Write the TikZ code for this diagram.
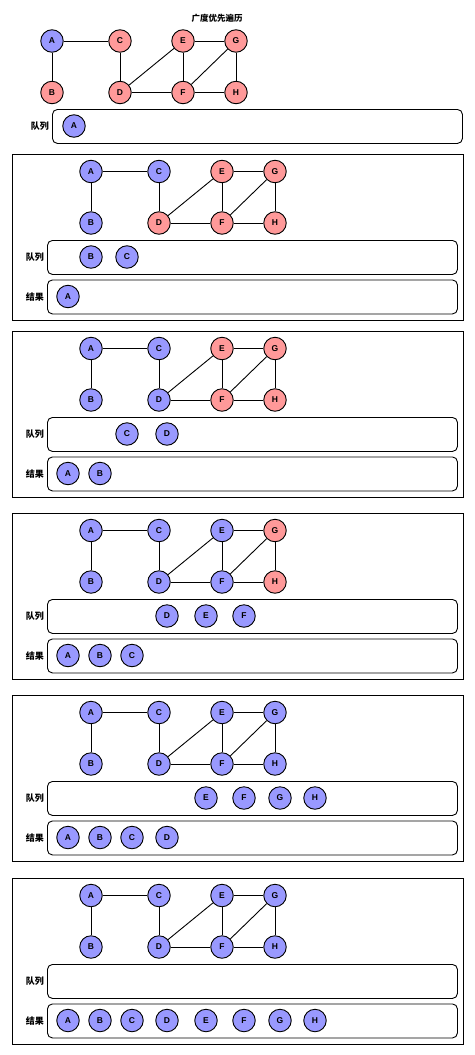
\documentclass[tikz,border=0pt]{standalone}
\usepackage{fontspec}
\setsansfont{Liberation Sans}
\newfontfamily\cjk{Noto Sans CJK SC}
\usetikzlibrary{positioning}

\tikzset{
    vertex/.style={circle, draw=borderColour, line width=0.9pt, minimum size=22.5pt, inner sep=0pt,
        font=\sffamily\bfseries\fontsize{8.5}{9}\selectfont},
    seen/.style={vertex, fill=fillColourSeen},
    edge/.style={draw=borderColour, line width=0.9pt},
    frame/.style={draw=borderColour, line width=0.9pt},
    listbox/.style={draw=borderColour, line width=0.9pt, rounded corners=5pt, minimum width=410pt,
        minimum height=34pt, inner sep=0pt, anchor=north west},
    listlabel/.style={font=\cjk\bfseries\fontsize{9}{10}\selectfont, inner sep=0pt},
}

% graph: prefix, x of A, y of A, number of visited vertices
\newcommand{\bfsGraph}[4]{%
    \foreach \v/\dx/\dy [count=\i] in {A/0/0,B/0/1,C/68/0,D/68/1,E/131/0,F/131/1,G/184/0,H/184/1} {
        \ifnum\i>#4 \def\fc{fillColourFresh}\else\def\fc{fillColourSeen}\fi
        \node[vertex, fill=\fc] (#1\v) at (#2+\dx,#3+\dy*\rowGap) {\v};
    }
    \foreach \a/\b in {A/B,A/C,C/D,D/E,D/F,E/F,E/G,F/G,F/H,G/H}
        \draw[edge] (#1\a) -- (#1\b);
}

% panel: number, top edge, number of visited vertices
\newcommand{\bfsPanel}[3]{%
    \draw[frame] (12,#2) rectangle (463,#2+166);
    \bfsGraph{g#1}{91}{#2+17.5}{#3}
    \node[listbox] (q#1) at (47,#2+86) {};
    \node[listbox] (r#1) at (47,#2+125.5) {};
    \node[listlabel, left=3pt of q#1] (q#1lbl) {队列};
    \node[listlabel, left=3pt of r#1] (r#1lbl) {结果};
}

\begin{document}
\begin{tikzpicture}[x=1pt, y=-1pt]
    \definecolor{borderColour}{HTML}{000000}
    \definecolor{fillColourSeen}{HTML}{9999FF}
    \definecolor{fillColourFresh}{HTML}{FF9999}

    \def\rowGap{51.5}

    \useasboundingbox (0,0) rectangle (474,1055);

    % Title and starting graph
    \node[listlabel, font=\cjk\bfseries\fontsize{8.5}{9}\selectfont] (title) at (217,18) {广度优先遍历};
    \bfsGraph{g0}{52}{41}{1}
    \node[listbox] (q0) at (52,109) {};
    \node[listlabel, left=3pt of q0] (q0lbl) {队列};
    \node[seen] (q0A) at (74,126) {A};

    % Step 1
    \bfsPanel{1}{154}{3}
    \foreach \v/\px in {B/91,C/127}
        \node[seen] (q1\v) at (\px,257) {\v};
    \node[seen] (r1A) at (68,296.5) {A};

    % Step 2
    \bfsPanel{2}{331}{4}
    \foreach \v/\px in {C/127,D/167}
        \node[seen] (q2\v) at (\px,434) {\v};
    \foreach \v/\px in {A/68,B/100}
        \node[seen] (r2\v) at (\px,473.5) {\v};

    % Step 3
    \bfsPanel{3}{513}{6}
    \foreach \v/\px in {D/167,E/206,F/244}
        \node[seen] (q3\v) at (\px,616) {\v};
    \foreach \v/\px in {A/68,B/100,C/132}
        \node[seen] (r3\v) at (\px,655.5) {\v};

    % Step 4
    \bfsPanel{4}{695}{8}
    \foreach \v/\px in {E/206,F/244,G/280,H/315}
        \node[seen] (q4\v) at (\px,798) {\v};
    \foreach \v/\px in {A/68,B/100,C/132,D/167}
        \node[seen] (r4\v) at (\px,837.5) {\v};

    % Step 5
    \bfsPanel{5}{878}{8}
    \foreach \v/\px in {A/68,B/100,C/132,D/167,E/206,F/244,G/280,H/315}
        \node[seen] (r5\v) at (\px,1020.5) {\v};

\end{tikzpicture}
\end{document}
